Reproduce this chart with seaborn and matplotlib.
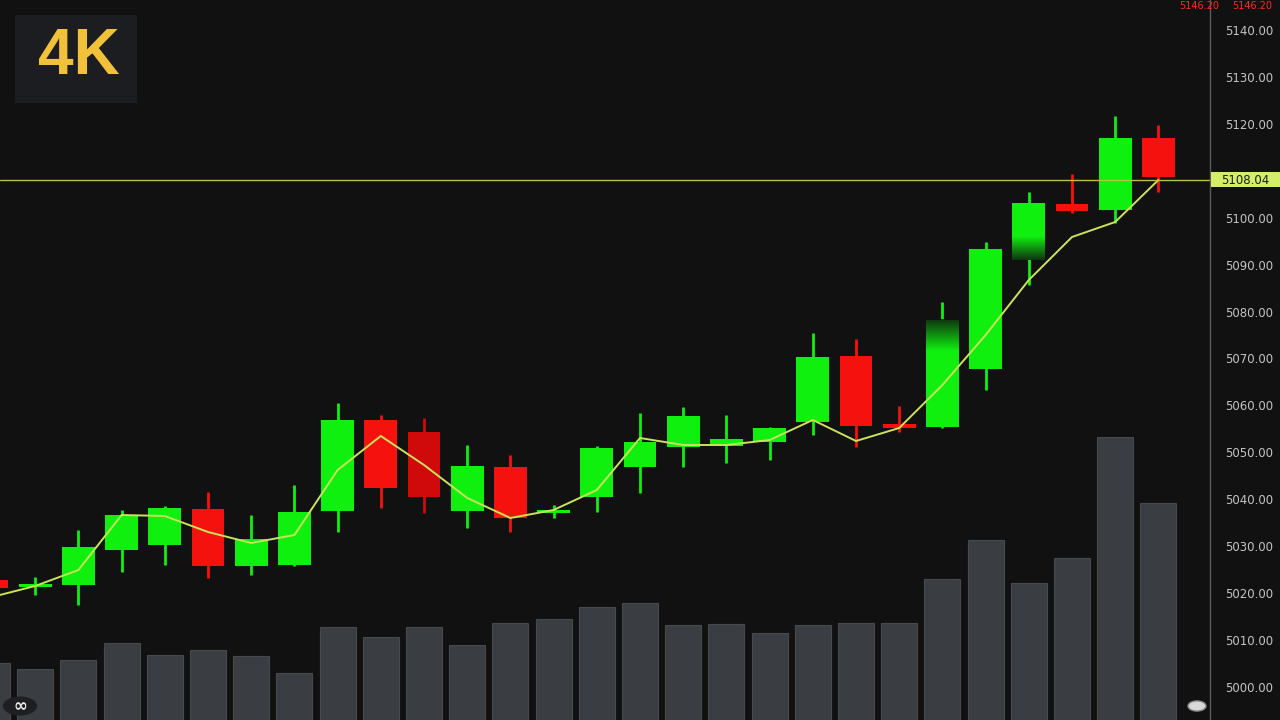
import numpy as np
import pandas as pd
import matplotlib
matplotlib.use("Agg")
import matplotlib.pyplot as plt
import matplotlib.transforms as mtransforms
from matplotlib.patches import FancyBboxPatch, Circle, Rectangle
from matplotlib.colors import to_rgb
import seaborn as sns

# ---------------- data ----------------
idx = list(range(28))
opens = [5022.80, 5021.31, 5021.74, 5029.20, 5030.26, 5037.93, 5025.79, 5026.00,
         5037.51, 5056.90, 5054.34, 5037.51, 5046.88, 5037.08, 5040.49, 5046.88,
         5051.14, 5051.36, 5052.21, 5056.47, 5070.53, 5056.04, 5055.40, 5067.76,
         5090.99, 5102.92, 5101.64, 5116.98]
closes = [5021.10, 5021.74, 5029.84, 5036.65, 5038.15, 5025.79, 5031.54, 5037.29,
          5056.90, 5042.41, 5040.49, 5047.09, 5036.01, 5037.51, 5050.93, 5052.21,
          5057.75, 5052.85, 5055.19, 5070.32, 5055.62, 5055.19, 5078.20, 5093.33,
          5103.13, 5101.43, 5116.98, 5108.67]
highs = [5023.23, 5023.44, 5033.46, 5037.72, 5038.57, 5041.55, 5036.65, 5043.05,
         5060.52, 5057.96, 5057.32, 5051.57, 5049.44, 5038.78, 5051.36, 5058.39,
         5059.67, 5057.96, 5055.40, 5075.43, 5074.16, 5059.88, 5082.04, 5094.82,
         5105.48, 5109.31, 5121.67, 5119.75]
lows = [5020.25, 5019.61, 5017.48, 5024.51, 5026.00, 5023.23, 5023.87, 5025.79,
        5033.03, 5038.15, 5037.08, 5033.88, 5033.03, 5036.01, 5037.29, 5041.34,
        5046.88, 5047.73, 5048.37, 5053.70, 5051.14, 5054.34, 5055.19, 5063.29,
        5085.66, 5101.00, 5098.87, 5105.48]
ma_line = [5019.18, 5021.53, 5024.93, 5036.65, 5036.44, 5033.03, 5030.69, 5032.39,
           5046.24, 5053.49, 5047.31, 5040.28, 5036.01, 5037.72, 5041.98, 5053.06,
           5051.57, 5051.57, 5052.63, 5056.90, 5052.42, 5055.19, 5064.35, 5075.01,
           5086.73, 5095.89, 5099.09, 5108.04]
volumes = [570, 510, 600, 770, 650, 700, 640, 470, 930, 830, 930, 750, 970, 1010,
           1130, 1170, 950, 960, 870, 950, 970, 970, 1410, 1800, 1370, 1620, 2830, 2170]
price_ticks = [5000, 5010, 5020, 5030, 5040, 5050, 5060, 5070, 5080, 5090,
               5100, 5110, 5120, 5130, 5140]
last_price = 5108.04
top_label = "5146.20"
badge_text = "4K"

# ---------------- style ----------------
BG = "#111111"
GREEN = "#0ff00f"
RED = "#f5120e"
sns.set_theme(style="dark", rc={"axes.facecolor": BG, "figure.facecolor": BG})
plt.rcParams["font.family"] = ["DejaVu Sans"]

fig = plt.figure(figsize=(12.8, 7.2), dpi=100)
ax_w = 1210 / 1280
ax = fig.add_axes([0, 0, ax_w, 1])

# volume on a twin axis (behind)
axv = ax.twinx()
axv.set_zorder(0)
ax.set_zorder(1)
ax.patch.set_visible(False)
axv.set_facecolor(BG)
vol_df = pd.DataFrame({"i": idx, "vol": volumes})
sns.barplot(data=vol_df, x="i", y="vol", ax=axv, color="#3a3d42",
            width=0.83, native_scale=True, saturation=1, edgecolor="#46494e",
            linewidth=0.8)
axv.set_ylim(0, 7200)
axv.set_yticks([])
axv.set_ylabel("")
axv.set_xlabel("")
axv.grid(False)

# candles
df = pd.DataFrame({"i": idx, "o": opens, "c": closes, "h": highs, "l": lows})
colors = []
for k, r in df.iterrows():
    if r.c >= r.o:
        colors.append(GREEN)
    else:
        colors.append("#d00a0a" if k == 10 else RED)
ax.vlines(df.i, df.l, df.h, colors=colors, linewidth=2.0, zorder=2)
body_h = (df.c - df.o).abs().clip(lower=0.6)
body_b = np.minimum(df.o, df.c)
BODY_W = 0.76
ax.bar(df.i, body_h, bottom=body_b, width=BODY_W, color=colors, zorder=3,
       linewidth=0)

# soft fades on two bodies (as in the reference)
bg_rgb = to_rgb(BG)
def fade(i, y_solid, y_faded, strength=0.85):
    n = 64
    grad = np.zeros((n, 1, 4))
    grad[..., 0], grad[..., 1], grad[..., 2] = bg_rgb
    a = np.linspace(0, strength, n)  # row 0 at y_solid -> row n-1 at y_faded
    grad[:, 0, 3] = a
    ax.imshow(grad, extent=(i - BODY_W / 2, i + BODY_W / 2, y_solid, y_faded),
              origin="lower", aspect="auto", zorder=3.5, interpolation="bilinear")
fade(22, 5071.5, closes[22])
fade(24, 5096.0, opens[24])

# moving average line
ma_df = pd.DataFrame({"i": idx, "ma": ma_line})
sns.lineplot(data=ma_df, x="i", y="ma", ax=ax, color="#c9e35a", linewidth=1.4,
             zorder=4)

# horizontal last price line
ax.axhline(last_price, color="#b9c23e", linewidth=1.0, zorder=5)

x_left = 0.185
ax.set_xlim(x_left, x_left + 1210 / 43.2)
ax.set_ylim(4992.97, 5146.39)
axv.set_xlim(ax.get_xlim())

ax.set_xlabel("")
ax.set_ylabel("")
ax.set_xticks([])
ax.yaxis.tick_right()
ax.set_yticks(price_ticks)
ax.set_yticklabels(["" if p == 5110 else f"{p:.2f}" for p in price_ticks])
ax.tick_params(axis="y", length=0, pad=11, labelsize=8.5, labelcolor="#c4c4c4")
ax.grid(False)
for s in list(ax.spines.values()) + list(axv.spines.values()):
    s.set_visible(False)

# separator between plot and price scale
fig.add_artist(plt.Line2D([ax_w, ax_w], [0, 1], color="#5a5a5a", linewidth=1.0))

# last price label box spanning the price scale
trans = mtransforms.blended_transform_factory(fig.transFigure, ax.transData)
box_h = 15 * (5146.39 - 4992.97) / 720
fig.add_artist(Rectangle((1211 / 1280, last_price - box_h / 2), 69 / 1280, box_h,
                         transform=trans, fc="#d3ee6a", ec="none", zorder=9))
fig.text(1245 / 1280, 1 - 180 / 720, f"{last_price:.2f}", ha="center",
         va="center", fontsize=8.5, color="#1c1c1c", zorder=10)

# red labels at the top edge
fig.text(1199 / 1280, 1 - 6 / 720, top_label, color="#ff2a1a", fontsize=7,
         ha="center", va="center")
fig.text(1252 / 1280, 1 - 6 / 720, top_label, color="#ff2a1a", fontsize=7,
         ha="center", va="center")

# 4K badge
fig.add_artist(FancyBboxPatch((15 / 1280, 1 - 103 / 720), 122 / 1280, 88 / 720,
                              boxstyle="square,pad=0", fc="#1c1d21", ec="none",
                              transform=fig.transFigure))
fig.text(79 / 1280, 1 - 57 / 720, badge_text, color="#f2c13a", fontsize=46,
         fontweight="bold", family=["Liberation Sans", "DejaVu Sans"],
         ha="center", va="center")

# small corner icons
fig.add_artist(Circle((20 / 1280, 1 - 706 / 720), 17 / 1280, fc="#1e1f22",
                      ec="none", transform=fig.transFigure))
fig.text(20 / 1280, 1 - 706 / 720, "\u221e", color="#e8e8e8", fontsize=12,
         ha="center", va="center", fontweight="bold")
fig.add_artist(Circle((1197 / 1280, 1 - 706 / 720), 9 / 1280, fc="#d8d8d8",
                      ec="#888888", transform=fig.transFigure))

fig.savefig("out.png", dpi=100, facecolor=BG)
